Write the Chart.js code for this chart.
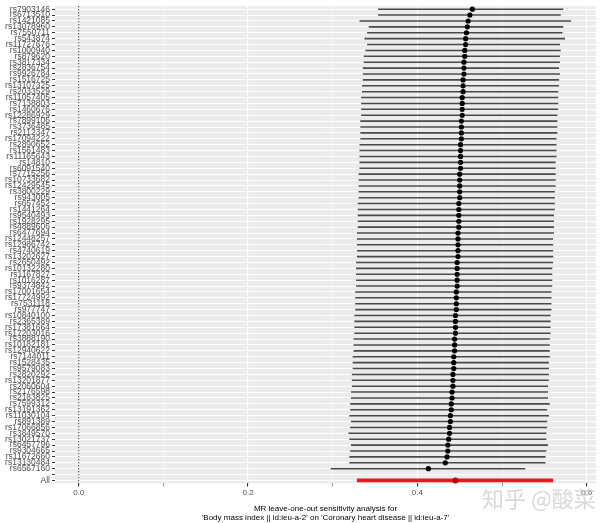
<!DOCTYPE html>
<html><head><meta charset="utf-8">
<script src="https://cdn.jsdelivr.net/npm/chart.js@4"></script>
<style>html,body{margin:0;padding:0;background:#fff}#w{position:relative;width:600px;height:523px}
#wm{position:absolute;left:482px;top:481px;font:22px "Noto Sans CJK SC";color:rgba(200,200,200,0.7)}</style>
</head><body><div id="w"><canvas id="c" width="600" height="523"></canvas><div id="wm">知乎 @酸菜</div></div>
<script>
const snps=["rs7903146","rs6713510","rs1421085","rs13078960","rs7550711","rs543874","rs11727676","rs1000940","rs879620","rs3817334","rs2836754","rs9926784","rs1516725","rs13107325","rs2033529","rs11057405","rs7138803","rs1460676","rs12286929","rs7899106","rs3736485","rs2112347","rs17094222","rs2890652","rs1561483","rs11165643","rs14810","rs6091540","rs7715256","rs10733682","rs12429545","rs3800229","rs943005","rs657452","rs1441264","rs9540493","rs1928295","rs4889606","rs6477694","rs12448257","rs12986742","rs4740619","rs13202627","rs2650492","rs10132280","rs1167827","rs1016287","rs9374842","rs17001654","rs17724992","rs7531118","rs977747","rs10840100","rs2365389","rs17381664","rs17203016","rs3888190","rs10182181","rs12940622","rs7144011","rs1528435","rs9579083","rs2820292","rs13201877","rs2060604","rs2176598","rs2183825","rs7599312","rs13191362","rs11030104","rs891389","rs17066856","rs3849570","rs13021737","rs6457796","rs9304665","rs11672660","rs13130484","rs6567160"];
const est=[0.465,0.462,0.460,0.459,0.458,0.457,0.457,0.456,0.456,0.455,0.455,0.455,0.454,0.454,0.454,0.453,0.453,0.453,0.453,0.452,0.452,0.452,0.452,0.451,0.451,0.451,0.451,0.451,0.450,0.450,0.450,0.450,0.450,0.449,0.449,0.449,0.449,0.449,0.448,0.448,0.448,0.448,0.448,0.447,0.447,0.447,0.447,0.447,0.446,0.446,0.446,0.446,0.445,0.445,0.445,0.445,0.444,0.444,0.444,0.443,0.443,0.443,0.442,0.442,0.442,0.441,0.441,0.440,0.440,0.439,0.439,0.438,0.438,0.437,0.436,0.436,0.435,0.433,0.413];
const lo=[0.354,0.354,0.332,0.343,0.341,0.338,0.341,0.339,0.337,0.337,0.336,0.336,0.336,0.335,0.335,0.334,0.334,0.334,0.334,0.333,0.333,0.333,0.333,0.332,0.332,0.332,0.332,0.332,0.331,0.331,0.331,0.331,0.331,0.330,0.330,0.330,0.330,0.330,0.329,0.329,0.329,0.329,0.329,0.328,0.328,0.328,0.328,0.328,0.327,0.327,0.327,0.327,0.326,0.326,0.326,0.326,0.325,0.325,0.325,0.324,0.324,0.324,0.323,0.323,0.323,0.322,0.322,0.321,0.321,0.320,0.322,0.321,0.319,0.320,0.322,0.321,0.320,0.320,0.298];
const hi=[0.572,0.569,0.581,0.572,0.571,0.574,0.568,0.569,0.568,0.568,0.567,0.568,0.567,0.567,0.566,0.566,0.566,0.566,0.565,0.565,0.565,0.565,0.564,0.564,0.564,0.564,0.563,0.563,0.563,0.563,0.563,0.562,0.562,0.562,0.562,0.561,0.561,0.561,0.561,0.560,0.560,0.560,0.560,0.560,0.559,0.559,0.559,0.559,0.558,0.558,0.558,0.558,0.557,0.557,0.557,0.557,0.556,0.556,0.556,0.556,0.555,0.555,0.555,0.555,0.554,0.554,0.554,0.556,0.553,0.555,0.553,0.553,0.552,0.552,0.554,0.552,0.551,0.551,0.527];
const allEst=0.445, allLo=0.329, allHi=0.560;
const title=["MR leave-one-out sensitivity analysis for","'Body mass index || id:ieu-a-2' on 'Coronary heart disease || id:ieu-a-7'"];
const xTicks=[0,0.2,0.4,0.6];

const labels=[...snps,"","All"];
const ciData=snps.map((s,i)=>({x:[lo[i],hi[i]],y:s}));
const ptData=snps.map((s,i)=>({x:est[i],y:s}));

const zeroLine={id:'z',beforeDatasetsDraw(ch){const x=ch.scales.x.getPixelForValue(0),a=ch.chartArea,c=ch.ctx;
 c.save();c.strokeStyle='#000';c.lineWidth=1;c.setLineDash([1,2]);c.beginPath();c.moveTo(x,a.top);c.lineTo(x,a.bottom);c.stroke();c.restore();}};
const bg={id:'bg',beforeDraw(ch){const a=ch.chartArea,c=ch.ctx;c.save();c.fillStyle='#EBEBEB';c.fillRect(a.left,a.top,a.right-a.left,a.bottom-a.top);c.restore();}};

new Chart(document.getElementById('c'),{
 type:'bar',
 data:{labels,datasets:[
  {type:'scatter',data:ptData,backgroundColor:'#000',borderWidth:0,pointRadius:2.6,order:1},
  {type:'scatter',data:[{x:allEst,y:"All"}],backgroundColor:'#B00000',borderWidth:0,pointRadius:3,order:1},
  {type:'bar',data:ciData,backgroundColor:'#4a4a4a',barThickness:0.9,grouped:false,order:2},
  {type:'bar',data:[{x:[allLo,allHi],y:"All"}],backgroundColor:'#E41A1C',barThickness:3,grouped:false,order:2}
 ]},
 options:{indexAxis:'y',responsive:false,animation:false,
  layout:{padding:{top:0,right:3,left:0,bottom:0}},
  plugins:{legend:{display:false},tooltip:{enabled:false}},
  scales:{
   x:{type:'linear',min:-0.028,max:0.611,
    afterBuildTicks(s){s.ticks=[0,0.1,0.2,0.3,0.4,0.5,0.6].map(v=>({value:v}));},
    ticks:{autoSkip:false,maxRotation:0,color:'#4D4D4D',font:{family:'Liberation Sans',size:8,lineHeight:1},padding:2,
     callback:v=>xTicks.includes(Math.round(v*10)/10)?(Math.round(v*10)/10).toFixed(1):''},
    grid:{color:'#fff',lineWidth:c=>{const v=Math.round(c.tick.value*10);return v%2===0?1.1:0.5;},drawTicks:true,tickLength:3,tickColor:'#333'},
    border:{display:false},
    title:{display:true,text:title,color:'#000',font:{family:'Liberation Sans',size:8,lineHeight:1.1},padding:{top:6,bottom:1}}},
   y:{type:'category',offset:true,afterFit(s){s.width=55;},
    ticks:{autoSkip:false,color:'#4D4D4D',font:{family:'Liberation Sans',size:8.5,lineHeight:1},padding:2},
    grid:{color:'#fff',lineWidth:1,offset:false,drawTicks:true,tickLength:3,tickColor:'#333'},border:{display:false}}
  }},
 plugins:[bg,zeroLine]
});
</script></body></html>
